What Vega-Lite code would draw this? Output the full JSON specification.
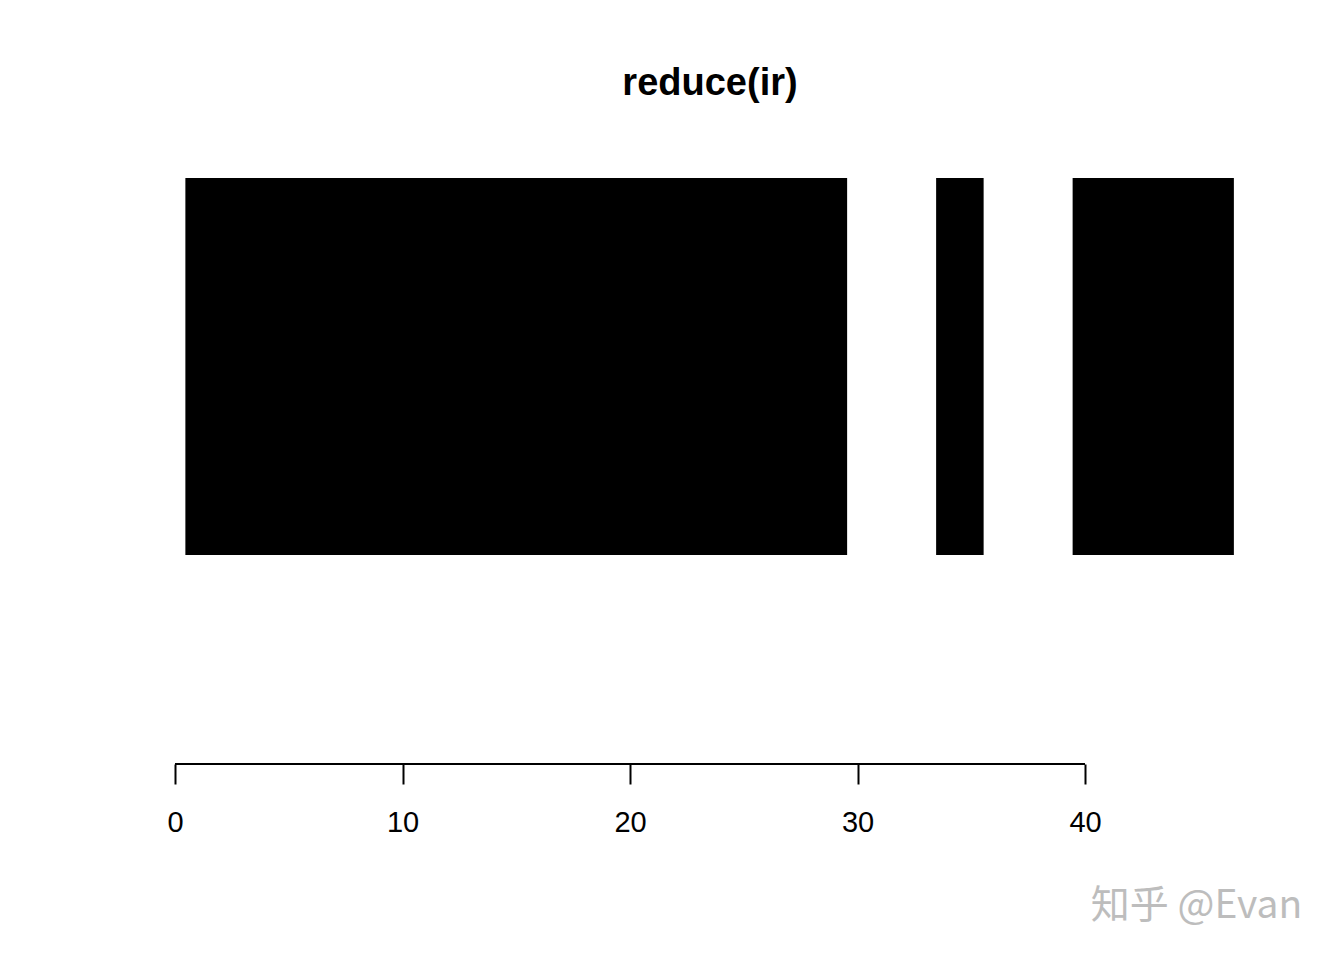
{
  "$schema": "https://vega.github.io/schema/vega-lite/v6.json",
  "autosize": {"type": "none"},
  "padding": {"left": 175, "top": 120, "right": 77, "bottom": 196},
  "width": 1092,
  "height": 644,
  "background": "white",
  "config": {"view": {"stroke": null}},
  "title": {
    "text": "reduce(ir)",
    "font": "Liberation Sans",
    "fontSize": 38,
    "fontWeight": "bold",
    "color": "black",
    "anchor": "middle",
    "dx": -11,
    "offset": 17
  },
  "datasets": {
    "ranges": [
      {"start": 0.5, "end": 29.5, "bottom": 210, "top": 585},
      {"start": 33.5, "end": 35.5, "bottom": 210, "top": 585},
      {"start": 39.5, "end": 46.5, "bottom": 210, "top": 585}
    ],
    "axisline": [{"from": 0, "to": 40, "level": 0}],
    "mark": [{"label": "知乎 @Evan", "xpos": 44.9, "ypos": -142}]
  },
  "layer": [
    {
      "data": {"name": "ranges"},
      "mark": {"type": "rect", "fill": "black", "stroke": "black", "strokeWidth": 2},
      "encoding": {
        "x": {
          "field": "start",
          "type": "quantitative",
          "scale": {"domain": [0, 48], "nice": false, "zero": false},
          "axis": {
            "values": [0, 10, 20, 30, 40],
            "domain": false,
            "grid": false,
            "tickSize": 20,
            "tickWidth": 2,
            "tickColor": "black",
            "labelFont": "Liberation Sans",
            "labelFontSize": 29,
            "labelColor": "black",
            "labelPadding": 24,
            "labelFlush": false,
            "title": null
          }
        },
        "x2": {"field": "end"},
        "y": {
          "field": "bottom",
          "type": "quantitative",
          "scale": {"domain": [0, 644], "nice": false, "zero": false},
          "axis": null
        },
        "y2": {"field": "top"}
      }
    },
    {
      "data": {"name": "axisline"},
      "mark": {"type": "rule", "stroke": "black", "strokeWidth": 2},
      "encoding": {
        "x": {"field": "from", "type": "quantitative"},
        "x2": {"field": "to"},
        "y": {"field": "level", "type": "quantitative"}
      }
    },
    {
      "data": {"name": "mark"},
      "mark": {"type": "text", "font": "Noto Sans CJK SC", "fontSize": 39, "color": "#bdbdbd", "align": "center", "baseline": "middle"},
      "encoding": {
        "x": {"field": "xpos", "type": "quantitative"},
        "y": {"field": "ypos", "type": "quantitative"},
        "text": {"field": "label"}
      }
    }
  ]
}
